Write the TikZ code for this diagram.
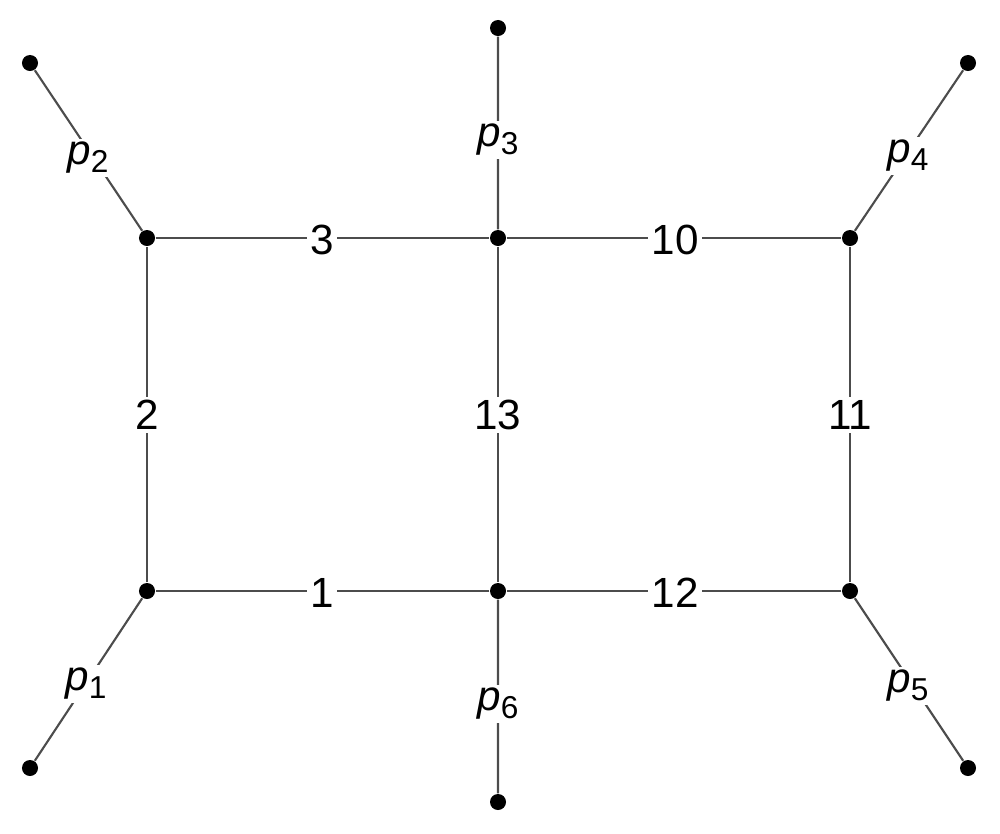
\documentclass[tikz,border=0pt]{standalone}
\usepackage{fontspec}
\setmainfont{Liberation Sans}
\newcommand{\pl}[1]{\textit{p}\raisebox{-0.35ex}{\fontsize{9}{10}\selectfont #1}}
\begin{document}
\begin{tikzpicture}[x=0.01cm,y=-0.01cm,
  dot/.style={circle,fill=black,inner sep=0pt,minimum size=0.16cm},
  ln/.style={draw=black!70,line width=0.6pt},
  lab/.style={fill=white,inner sep=1pt,font=\fontsize{12}{13}\selectfont}]
\useasboundingbox (0,0) rectangle (1000,833);
\node[dot] (e2) at (30,63) {};
\node[dot] (a) at (147,238) {};
\node[dot] (b) at (498,238) {};
\node[dot] (c) at (850,238) {};
\node[dot] (e4) at (968,63) {};
\node[dot] (e3) at (498,28) {};
\node[dot] (d) at (147,591) {};
\node[dot] (e) at (498,591) {};
\node[dot] (f) at (850,591) {};
\node[dot] (e1) at (30,768) {};
\node[dot] (e6) at (498,802) {};
\node[dot] (e5) at (968,768) {};
\draw[ln] (e2)--(a) (e3)--(b) (e4)--(c) (e1)--(d) (e6)--(e) (e5)--(f);
\draw[ln] (a)--(b)--(c)--(f)--(e)--(d)--(a) (b)--(e);
\node[lab] at (88,158) {\pl{2}};
\node[lab] at (498,140) {\pl{3}};
\node[lab] at (908,156) {\pl{4}};
\node[lab] at (86,684) {\pl{1}};
\node[lab] at (498,704) {\pl{6}};
\node[lab] at (908,686) {\pl{5}};
\node[lab] at (322,240) {3};
\node[lab] at (675,240) {10};
\node[lab] at (147,415) {2};
\node[lab] at (498,415) {13};
\node[lab] at (850,415) {11};
\node[lab] at (322,593) {1};
\node[lab] at (675,593) {12};
\end{tikzpicture}
\end{document}
